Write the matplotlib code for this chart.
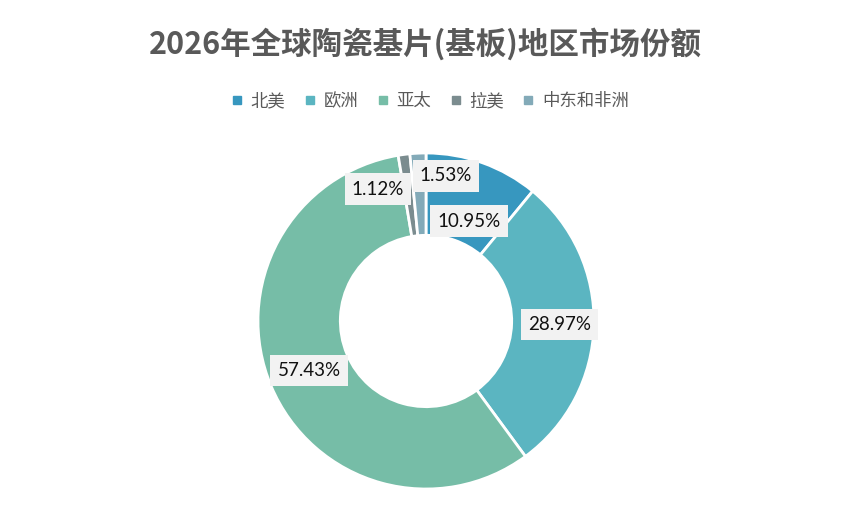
import numpy as np
import matplotlib
matplotlib.use('Agg')
import matplotlib.pyplot as plt
from matplotlib.lines import Line2D

plt.rcParams['font.family'] = ['Noto Sans CJK SC', 'DejaVu Sans']

# data
regions = ['北美', '欧洲', '亚太', '拉美', '中东和非洲']
shares = [10.95, 28.97, 57.43, 1.12, 1.53]
colors = ['#3797BF', '#5BB5C1', '#76BDA7', '#7B8C8F', '#83AAB8']

# label nudges (data units) so the small slices don't collide
label_nudge = [(0.0, -0.117), (0.04, 0.0), (0.0, 0.0), (-0.187, 0.036), (0.156, 0.108)]

fig = plt.figure(figsize=(8.59, 5.05), dpi=100)
ax = fig.add_axes([(426 - 168) / 859, 16 / 505, 336 / 859, 336 / 505])

wedges, _ = ax.pie(shares, colors=colors, startangle=90, counterclock=False,
                   radius=1.0, wedgeprops=dict(width=0.49, edgecolor='white', linewidth=2))
ax.set_xlim(-1, 1)
ax.set_ylim(-1, 1)
ax.set_aspect('equal')
ax.axis('off')

for w, v, (dx, dy) in zip(wedges, shares, label_nudge):
    ang = np.deg2rad((w.theta1 + w.theta2) / 2)
    r = 0.756
    x = r * np.cos(ang) + dx
    y = r * np.sin(ang) + dy
    ax.text(x, y, f'{v:.2f}%', ha='center', va='center', fontsize=13.5,
            family=['Lato', 'DejaVu Sans'], color='#111111',
            bbox=dict(boxstyle='square,pad=0.38', facecolor='#F2F2F2', edgecolor='none'))

fig.text(0.495, 0.912, '2026年全球陶瓷基片(基板)地区市场份额', ha='center', va='center',
         fontsize=22, fontweight='bold', color='#595959')

handles = [Line2D([0], [0], marker='s', linestyle='none', markersize=6,
                  markerfacecolor=c, markeredgecolor=c) for c in colors]
fig.legend(handles, regions, loc='center', bbox_to_anchor=(0.5, 0.8), ncol=5,
           frameon=False, prop=dict(size=12.5, weight='light'), labelcolor='#595959',
           handlelength=0.8, handletextpad=0.4, columnspacing=1.0)

fig.savefig('out.png', dpi=100)
